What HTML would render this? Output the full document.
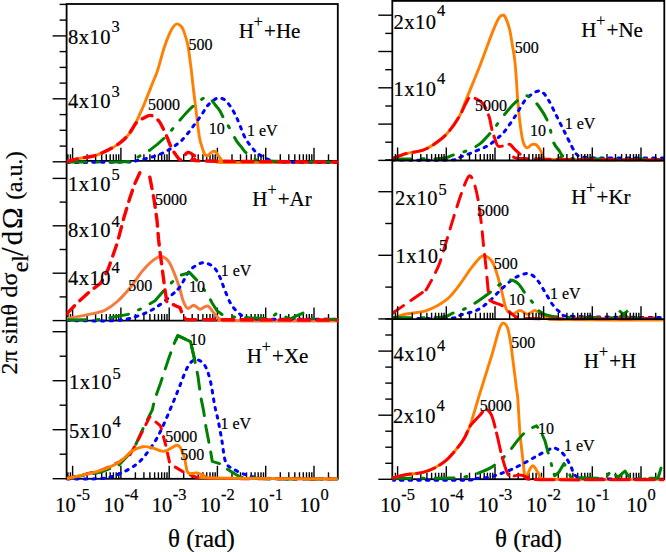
<!DOCTYPE html>
<html><head><meta charset="utf-8"><style>html,body{margin:0;padding:0;background:#fff;overflow:hidden}svg{display:block}</style></head><body>
<svg width="666" height="552" viewBox="0 0 666 552">
<rect width="666" height="552" fill="#fff"/>
<defs>
<clipPath id="cl0"><rect x="66.6" y="4.0" width="271.20000000000005" height="160.3"/></clipPath>
<clipPath id="cl1"><rect x="66.6" y="160.8" width="271.20000000000005" height="163.3"/></clipPath>
<clipPath id="cl2"><rect x="66.6" y="320.6" width="271.20000000000005" height="161.7"/></clipPath>
<clipPath id="cr0"><rect x="392.3" y="0.9" width="271.99999999999994" height="163.1"/></clipPath>
<clipPath id="cr1"><rect x="392.3" y="160.5" width="271.99999999999994" height="162.2"/></clipPath>
<clipPath id="cr2"><rect x="392.3" y="319.2" width="271.99999999999994" height="163.5"/></clipPath>
<clipPath id="cl1r"><rect x="66.6" y="166" width="271.20000000000005" height="157"/></clipPath>
</defs>
<path d="M392.0,158.5 C394.4,157.7 401.3,154.9 406.5,153.5 C411.7,152.1 418.1,152.0 423.0,150.2 C427.9,148.4 432.1,145.7 436.2,142.8 C440.3,139.9 443.9,137.2 447.8,132.8 C451.7,128.4 456.4,121.8 459.4,116.3 C462.4,110.8 462.6,108.4 466.0,100.0 C469.4,91.6 475.6,76.8 479.9,65.8 C484.2,54.8 489.0,41.1 491.8,33.9 C494.6,26.7 495.2,25.4 496.5,22.5 C497.8,19.6 498.8,18.0 499.8,16.8 C500.8,15.6 501.6,15.2 502.5,15.2 C503.4,15.1 503.8,14.2 505.0,16.5 C506.2,18.8 508.2,24.1 509.5,29.0 C510.8,33.9 511.6,40.9 512.5,46.0 C513.4,51.1 514.1,54.1 514.7,59.8 C515.4,65.5 515.9,73.3 516.4,80.0 C516.9,86.7 517.1,92.5 517.7,99.7 C518.3,106.9 519.1,116.1 520.0,123.1 C520.9,130.1 521.9,137.5 523.1,141.6 C524.3,145.7 525.6,147.3 527.0,147.8 C528.4,148.3 530.1,145.2 531.6,144.7 C533.1,144.2 534.7,143.7 536.2,144.7 C537.7,145.7 539.6,148.8 540.8,150.9 C542.0,153.0 542.0,155.6 543.2,157.0 C544.4,158.4 527.9,159.0 548.0,159.5 C568.1,160.0 644.7,159.9 664.0,160.0" fill="none" stroke="#FF8000" stroke-width="2.9" stroke-linejoin="round" clip-path="url(#cr0)"/>
<path d="M392.0,160.0 C401.7,160.0 438.5,160.5 450.0,160.0 C461.5,159.5 456.7,158.3 461.0,156.8 C465.3,155.3 471.2,153.0 475.9,151.0 C480.6,149.0 485.0,147.5 489.0,145.0 C493.0,142.5 497.5,138.3 500.0,136.2 C502.5,134.1 501.4,135.6 503.9,132.4 C506.3,129.2 511.1,122.4 514.7,117.0 C518.3,111.6 521.8,104.2 525.4,100.0 C529.0,95.8 533.4,92.9 536.2,91.6 C539.0,90.3 540.4,90.9 542.4,92.3 C544.4,93.7 546.2,96.1 548.5,100.0 C550.8,103.9 553.7,110.3 556.3,115.4 C558.9,120.5 561.4,125.7 564.0,130.8 C566.6,136.0 569.7,142.4 571.7,146.3 C573.8,150.2 574.5,152.2 576.3,154.0 C578.1,155.8 578.4,156.3 582.4,157.0 C586.4,157.7 586.4,157.8 600.0,158.0 C613.6,158.2 653.3,158.0 664.0,158.0" fill="none" stroke="#0000FF" stroke-width="3.0" stroke-linejoin="round" stroke-dasharray="2.6 6" stroke-linecap="round" clip-path="url(#cr0)"/>
<path d="M392.0,159.0 C400.0,158.9 429.9,159.1 440.0,158.4 C450.1,157.8 448.5,156.3 452.8,155.1 C457.1,153.9 461.6,152.8 466.0,151.0 C470.4,149.2 475.4,147.2 479.2,144.4 C483.0,141.7 486.4,137.3 489.0,134.5 C491.6,131.7 492.1,131.0 494.6,127.8 C497.1,124.6 501.1,119.0 503.9,115.4 C506.7,111.8 509.0,108.9 511.6,106.2 C514.2,103.5 516.5,101.0 519.3,99.3 C522.1,97.6 525.2,94.9 528.5,96.2 C531.8,97.5 536.0,102.5 539.3,107.0 C542.6,111.5 546.2,117.3 548.5,123.1 C550.8,128.9 551.4,137.0 553.2,141.6 C555.0,146.2 557.8,148.6 559.3,150.9 C560.8,153.2 560.6,154.2 562.4,155.5 C564.2,156.8 553.1,157.8 570.0,158.5 C586.9,159.2 648.3,159.3 664.0,159.5" fill="none" stroke="#008000" stroke-width="3.0" stroke-linejoin="round" stroke-dasharray="19 11 2 11" stroke-linecap="round" clip-path="url(#cr0)"/>
<path d="M392.0,158.5 C394.4,157.7 401.3,154.9 406.5,153.5 C411.7,152.1 418.1,152.0 423.0,150.2 C427.9,148.4 432.1,145.7 436.2,142.8 C440.3,139.9 443.9,137.2 447.8,132.8 C451.7,128.4 456.4,121.3 459.4,116.3 C462.4,111.4 464.1,106.3 466.0,103.1 C467.9,99.9 468.2,97.3 471.0,97.3 C473.8,97.3 479.5,99.9 482.5,103.1 C485.5,106.3 487.4,111.8 489.0,116.3 C490.6,120.8 491.0,126.2 492.0,130.0 C493.0,133.8 494.0,136.3 495.0,139.0 C496.0,141.7 496.3,144.9 498.0,146.0 C499.7,147.1 503.0,145.8 505.0,145.5 C507.0,145.2 508.4,143.9 510.0,144.5 C511.6,145.1 513.0,147.7 514.7,149.3 C516.4,150.9 518.2,152.4 520.0,154.0 C521.8,155.6 501.4,157.6 525.4,158.6 C549.4,159.6 640.9,159.8 664.0,160.0" fill="none" stroke="#FF0000" stroke-width="3.0" stroke-linejoin="round" stroke-dasharray="15 7" stroke-linecap="round" clip-path="url(#cr0)"/>
<path d="M392.0,318.2 C394.4,317.5 400.8,315.2 406.5,314.0 C412.2,312.7 419.7,313.0 426.3,310.7 C432.9,308.3 440.7,304.2 446.2,299.9 C451.7,295.6 455.3,290.2 459.4,285.0 C463.5,279.7 467.4,273.1 471.0,268.4 C474.6,263.7 478.5,258.9 480.8,256.9 C483.1,254.8 483.5,255.6 485.0,256.0 C486.5,256.3 488.5,257.3 490.0,258.9 C491.5,260.4 492.7,262.3 494.0,265.4 C495.3,268.5 496.7,272.9 498.0,277.4 C499.3,282.0 500.6,287.1 502.0,292.5 C503.4,297.9 504.8,306.0 506.5,309.6 C508.2,313.2 510.2,314.0 512.5,314.2 C514.8,314.3 517.5,310.4 520.0,310.4 C522.5,310.4 525.0,314.2 527.5,314.2 C530.0,314.2 532.8,310.4 535.0,310.4 C537.2,310.4 539.0,312.9 541.0,314.2 C543.0,315.4 543.8,317.0 547.0,317.9 C550.2,318.8 540.5,319.2 560.0,319.6 C579.5,320.0 646.7,320.0 664.0,320.1" fill="none" stroke="#FF8000" stroke-width="2.9" stroke-linejoin="round" clip-path="url(#cr1)"/>
<path d="M392.0,318.6 C401.7,318.5 438.5,318.8 450.0,318.2 C461.5,317.6 456.4,316.3 461.0,314.9 C465.6,313.5 472.8,312.1 477.5,309.9 C482.2,307.6 485.2,304.8 489.0,301.5 C492.8,298.2 496.6,293.7 500.5,290.0 C504.4,286.3 508.8,282.1 512.5,279.5 C516.2,276.8 520.0,275.1 523.0,274.2 C526.0,273.4 528.0,273.1 530.5,274.2 C533.0,275.4 535.5,277.8 538.0,281.0 C540.5,284.1 543.1,289.1 545.6,293.1 C548.1,297.1 550.3,301.8 553.0,305.1 C555.7,308.5 558.5,311.5 562.0,313.4 C565.5,315.3 557.0,315.7 574.0,316.4 C591.0,317.1 649.0,317.4 664.0,317.6" fill="none" stroke="#0000FF" stroke-width="3.0" stroke-linejoin="round" stroke-dasharray="2.6 6" stroke-linecap="round" clip-path="url(#cr1)"/>
<path d="M392.0,317.6 C400.0,317.6 429.9,318.1 440.0,317.4 C450.1,316.7 448.5,314.7 452.8,313.2 C457.1,311.7 461.9,310.2 466.0,308.3 C470.1,306.3 473.7,304.0 477.5,301.5 C481.3,299.0 485.9,295.7 489.0,293.3 C492.1,290.9 493.1,289.0 496.0,287.0 C498.9,284.9 503.8,282.1 506.5,281.0 C509.2,279.8 510.5,279.8 512.5,280.3 C514.5,280.8 516.2,281.6 518.5,284.0 C520.8,286.3 523.5,291.2 526.0,294.5 C528.5,297.8 531.2,300.8 533.5,303.5 C535.8,306.3 536.2,309.0 539.5,311.2 C542.8,313.3 542.9,315.3 553.0,316.4 C563.1,317.5 581.5,317.3 600.0,317.6 C618.5,317.9 653.3,318.0 664.0,318.1" fill="none" stroke="#008000" stroke-width="3.0" stroke-linejoin="round" stroke-dasharray="19 11 2 11" stroke-linecap="round" clip-path="url(#cr1)"/>
<path d="M619.0,310.6 L628.0,317.6" fill="none" stroke="#008000" stroke-width="3.0" stroke-linejoin="round" clip-path="url(#cr1)"/>
<path d="M628.0,310.6 L619.0,317.6" fill="none" stroke="#008000" stroke-width="3.0" stroke-linejoin="round" clip-path="url(#cr1)"/>
<path d="M392.0,313.6 L426.0,290.0" fill="none" stroke="#FF0000" stroke-width="3.0" stroke-linejoin="round" stroke-dasharray="14 9" stroke-linecap="round" clip-path="url(#cr1)"/>
<path d="M426.0,290.0 C427.2,287.9 430.8,281.9 433.0,277.4 C435.2,273.0 437.3,269.3 439.5,263.4 C441.7,257.5 443.7,250.1 446.2,241.9 C448.7,233.8 451.9,222.7 454.5,214.5 C457.1,206.3 459.6,198.4 461.7,192.6 C463.8,186.8 465.4,182.3 466.8,179.6 C468.2,176.8 469.1,175.0 470.4,176.0 C471.7,176.9 473.5,181.2 474.8,185.4 C476.1,189.6 477.3,195.0 478.4,201.4 C479.5,207.7 480.4,215.9 481.3,223.2 C482.2,230.6 482.8,238.3 483.5,245.3 C484.2,252.3 484.9,256.6 485.8,265.1 C486.7,273.6 488.0,290.4 489.0,296.5 C490.0,302.6 490.2,300.2 492.0,301.5 C493.8,302.9 498.1,303.7 500.0,304.5 C501.9,305.4 501.9,305.3 503.5,306.6 C505.1,307.8 507.2,310.1 509.5,311.9 C511.8,313.6 513.6,316.1 517.0,317.2 C520.4,318.3 505.5,318.4 530.0,318.6 C554.5,318.8 641.7,318.6 664.0,318.6" fill="none" stroke="#FF0000" stroke-width="3.0" stroke-linejoin="round" stroke-dasharray="14 9" stroke-dashoffset="3" stroke-linecap="round" clip-path="url(#cr1)"/>
<g stroke="#000" stroke-width="1.4" fill="none">
<line x1="67.9" y1="160.8" x2="67.9" y2="154.3"/>
<line x1="70.4" y1="160.8" x2="70.4" y2="154.3"/>
<line x1="72.6" y1="160.8" x2="72.6" y2="147.8"/>
<line x1="87.1" y1="160.8" x2="87.1" y2="154.3"/>
<line x1="95.6" y1="160.8" x2="95.6" y2="154.3"/>
<line x1="101.7" y1="160.8" x2="101.7" y2="154.3"/>
<line x1="106.3" y1="160.8" x2="106.3" y2="154.3"/>
<line x1="110.2" y1="160.8" x2="110.2" y2="154.3"/>
<line x1="113.4" y1="160.8" x2="113.4" y2="154.3"/>
<line x1="116.2" y1="160.8" x2="116.2" y2="154.3"/>
<line x1="118.7" y1="160.8" x2="118.7" y2="154.3"/>
<line x1="120.9" y1="160.8" x2="120.9" y2="147.8"/>
<line x1="135.4" y1="160.8" x2="135.4" y2="154.3"/>
<line x1="143.9" y1="160.8" x2="143.9" y2="154.3"/>
<line x1="149.9" y1="160.8" x2="149.9" y2="154.3"/>
<line x1="154.6" y1="160.8" x2="154.6" y2="154.3"/>
<line x1="158.4" y1="160.8" x2="158.4" y2="154.3"/>
<line x1="161.7" y1="160.8" x2="161.7" y2="154.3"/>
<line x1="164.5" y1="160.8" x2="164.5" y2="154.3"/>
<line x1="167.0" y1="160.8" x2="167.0" y2="154.3"/>
<line x1="169.2" y1="160.8" x2="169.2" y2="147.8"/>
<line x1="183.7" y1="160.8" x2="183.7" y2="154.3"/>
<line x1="192.2" y1="160.8" x2="192.2" y2="154.3"/>
<line x1="198.2" y1="160.8" x2="198.2" y2="154.3"/>
<line x1="202.9" y1="160.8" x2="202.9" y2="154.3"/>
<line x1="206.7" y1="160.8" x2="206.7" y2="154.3"/>
<line x1="210.0" y1="160.8" x2="210.0" y2="154.3"/>
<line x1="212.8" y1="160.8" x2="212.8" y2="154.3"/>
<line x1="215.2" y1="160.8" x2="215.2" y2="154.3"/>
<line x1="217.4" y1="160.8" x2="217.4" y2="147.8"/>
<line x1="232.0" y1="160.8" x2="232.0" y2="154.3"/>
<line x1="240.5" y1="160.8" x2="240.5" y2="154.3"/>
<line x1="246.5" y1="160.8" x2="246.5" y2="154.3"/>
<line x1="251.2" y1="160.8" x2="251.2" y2="154.3"/>
<line x1="255.0" y1="160.8" x2="255.0" y2="154.3"/>
<line x1="258.2" y1="160.8" x2="258.2" y2="154.3"/>
<line x1="261.0" y1="160.8" x2="261.0" y2="154.3"/>
<line x1="263.5" y1="160.8" x2="263.5" y2="154.3"/>
<line x1="265.7" y1="160.8" x2="265.7" y2="147.8"/>
<line x1="280.3" y1="160.8" x2="280.3" y2="154.3"/>
<line x1="288.8" y1="160.8" x2="288.8" y2="154.3"/>
<line x1="294.8" y1="160.8" x2="294.8" y2="154.3"/>
<line x1="299.5" y1="160.8" x2="299.5" y2="154.3"/>
<line x1="303.3" y1="160.8" x2="303.3" y2="154.3"/>
<line x1="306.5" y1="160.8" x2="306.5" y2="154.3"/>
<line x1="309.3" y1="160.8" x2="309.3" y2="154.3"/>
<line x1="311.8" y1="160.8" x2="311.8" y2="154.3"/>
<line x1="314.0" y1="160.8" x2="314.0" y2="147.8"/>
<line x1="328.5" y1="160.8" x2="328.5" y2="154.3"/>
<line x1="67.9" y1="320.6" x2="67.9" y2="314.1"/>
<line x1="70.4" y1="320.6" x2="70.4" y2="314.1"/>
<line x1="72.6" y1="320.6" x2="72.6" y2="307.6"/>
<line x1="87.1" y1="320.6" x2="87.1" y2="314.1"/>
<line x1="95.6" y1="320.6" x2="95.6" y2="314.1"/>
<line x1="101.7" y1="320.6" x2="101.7" y2="314.1"/>
<line x1="106.3" y1="320.6" x2="106.3" y2="314.1"/>
<line x1="110.2" y1="320.6" x2="110.2" y2="314.1"/>
<line x1="113.4" y1="320.6" x2="113.4" y2="314.1"/>
<line x1="116.2" y1="320.6" x2="116.2" y2="314.1"/>
<line x1="118.7" y1="320.6" x2="118.7" y2="314.1"/>
<line x1="120.9" y1="320.6" x2="120.9" y2="307.6"/>
<line x1="135.4" y1="320.6" x2="135.4" y2="314.1"/>
<line x1="143.9" y1="320.6" x2="143.9" y2="314.1"/>
<line x1="149.9" y1="320.6" x2="149.9" y2="314.1"/>
<line x1="154.6" y1="320.6" x2="154.6" y2="314.1"/>
<line x1="158.4" y1="320.6" x2="158.4" y2="314.1"/>
<line x1="161.7" y1="320.6" x2="161.7" y2="314.1"/>
<line x1="164.5" y1="320.6" x2="164.5" y2="314.1"/>
<line x1="167.0" y1="320.6" x2="167.0" y2="314.1"/>
<line x1="169.2" y1="320.6" x2="169.2" y2="307.6"/>
<line x1="183.7" y1="320.6" x2="183.7" y2="314.1"/>
<line x1="192.2" y1="320.6" x2="192.2" y2="314.1"/>
<line x1="198.2" y1="320.6" x2="198.2" y2="314.1"/>
<line x1="202.9" y1="320.6" x2="202.9" y2="314.1"/>
<line x1="206.7" y1="320.6" x2="206.7" y2="314.1"/>
<line x1="210.0" y1="320.6" x2="210.0" y2="314.1"/>
<line x1="212.8" y1="320.6" x2="212.8" y2="314.1"/>
<line x1="215.2" y1="320.6" x2="215.2" y2="314.1"/>
<line x1="217.4" y1="320.6" x2="217.4" y2="307.6"/>
<line x1="232.0" y1="320.6" x2="232.0" y2="314.1"/>
<line x1="240.5" y1="320.6" x2="240.5" y2="314.1"/>
<line x1="246.5" y1="320.6" x2="246.5" y2="314.1"/>
<line x1="251.2" y1="320.6" x2="251.2" y2="314.1"/>
<line x1="255.0" y1="320.6" x2="255.0" y2="314.1"/>
<line x1="258.2" y1="320.6" x2="258.2" y2="314.1"/>
<line x1="261.0" y1="320.6" x2="261.0" y2="314.1"/>
<line x1="263.5" y1="320.6" x2="263.5" y2="314.1"/>
<line x1="265.7" y1="320.6" x2="265.7" y2="307.6"/>
<line x1="280.3" y1="320.6" x2="280.3" y2="314.1"/>
<line x1="288.8" y1="320.6" x2="288.8" y2="314.1"/>
<line x1="294.8" y1="320.6" x2="294.8" y2="314.1"/>
<line x1="299.5" y1="320.6" x2="299.5" y2="314.1"/>
<line x1="303.3" y1="320.6" x2="303.3" y2="314.1"/>
<line x1="306.5" y1="320.6" x2="306.5" y2="314.1"/>
<line x1="309.3" y1="320.6" x2="309.3" y2="314.1"/>
<line x1="311.8" y1="320.6" x2="311.8" y2="314.1"/>
<line x1="314.0" y1="320.6" x2="314.0" y2="307.6"/>
<line x1="328.5" y1="320.6" x2="328.5" y2="314.1"/>
<line x1="67.9" y1="478.8" x2="67.9" y2="472.3"/>
<line x1="70.4" y1="478.8" x2="70.4" y2="472.3"/>
<line x1="72.6" y1="478.8" x2="72.6" y2="465.8"/>
<line x1="87.1" y1="478.8" x2="87.1" y2="472.3"/>
<line x1="95.6" y1="478.8" x2="95.6" y2="472.3"/>
<line x1="101.7" y1="478.8" x2="101.7" y2="472.3"/>
<line x1="106.3" y1="478.8" x2="106.3" y2="472.3"/>
<line x1="110.2" y1="478.8" x2="110.2" y2="472.3"/>
<line x1="113.4" y1="478.8" x2="113.4" y2="472.3"/>
<line x1="116.2" y1="478.8" x2="116.2" y2="472.3"/>
<line x1="118.7" y1="478.8" x2="118.7" y2="472.3"/>
<line x1="120.9" y1="478.8" x2="120.9" y2="465.8"/>
<line x1="135.4" y1="478.8" x2="135.4" y2="472.3"/>
<line x1="143.9" y1="478.8" x2="143.9" y2="472.3"/>
<line x1="149.9" y1="478.8" x2="149.9" y2="472.3"/>
<line x1="154.6" y1="478.8" x2="154.6" y2="472.3"/>
<line x1="158.4" y1="478.8" x2="158.4" y2="472.3"/>
<line x1="161.7" y1="478.8" x2="161.7" y2="472.3"/>
<line x1="164.5" y1="478.8" x2="164.5" y2="472.3"/>
<line x1="167.0" y1="478.8" x2="167.0" y2="472.3"/>
<line x1="169.2" y1="478.8" x2="169.2" y2="465.8"/>
<line x1="183.7" y1="478.8" x2="183.7" y2="472.3"/>
<line x1="192.2" y1="478.8" x2="192.2" y2="472.3"/>
<line x1="198.2" y1="478.8" x2="198.2" y2="472.3"/>
<line x1="202.9" y1="478.8" x2="202.9" y2="472.3"/>
<line x1="206.7" y1="478.8" x2="206.7" y2="472.3"/>
<line x1="210.0" y1="478.8" x2="210.0" y2="472.3"/>
<line x1="212.8" y1="478.8" x2="212.8" y2="472.3"/>
<line x1="215.2" y1="478.8" x2="215.2" y2="472.3"/>
<line x1="217.4" y1="478.8" x2="217.4" y2="465.8"/>
<line x1="232.0" y1="478.8" x2="232.0" y2="472.3"/>
<line x1="240.5" y1="478.8" x2="240.5" y2="472.3"/>
<line x1="246.5" y1="478.8" x2="246.5" y2="472.3"/>
<line x1="251.2" y1="478.8" x2="251.2" y2="472.3"/>
<line x1="255.0" y1="478.8" x2="255.0" y2="472.3"/>
<line x1="258.2" y1="478.8" x2="258.2" y2="472.3"/>
<line x1="261.0" y1="478.8" x2="261.0" y2="472.3"/>
<line x1="263.5" y1="478.8" x2="263.5" y2="472.3"/>
<line x1="265.7" y1="478.8" x2="265.7" y2="465.8"/>
<line x1="280.3" y1="478.8" x2="280.3" y2="472.3"/>
<line x1="288.8" y1="478.8" x2="288.8" y2="472.3"/>
<line x1="294.8" y1="478.8" x2="294.8" y2="472.3"/>
<line x1="299.5" y1="478.8" x2="299.5" y2="472.3"/>
<line x1="303.3" y1="478.8" x2="303.3" y2="472.3"/>
<line x1="306.5" y1="478.8" x2="306.5" y2="472.3"/>
<line x1="309.3" y1="478.8" x2="309.3" y2="472.3"/>
<line x1="311.8" y1="478.8" x2="311.8" y2="472.3"/>
<line x1="314.0" y1="478.8" x2="314.0" y2="465.8"/>
<line x1="328.5" y1="478.8" x2="328.5" y2="472.3"/>
<line x1="395.4" y1="160.5" x2="395.4" y2="154.0"/>
<line x1="397.6" y1="160.5" x2="397.6" y2="147.5"/>
<line x1="412.3" y1="160.5" x2="412.3" y2="154.0"/>
<line x1="420.8" y1="160.5" x2="420.8" y2="154.0"/>
<line x1="426.9" y1="160.5" x2="426.9" y2="154.0"/>
<line x1="431.6" y1="160.5" x2="431.6" y2="154.0"/>
<line x1="435.5" y1="160.5" x2="435.5" y2="154.0"/>
<line x1="438.7" y1="160.5" x2="438.7" y2="154.0"/>
<line x1="441.6" y1="160.5" x2="441.6" y2="154.0"/>
<line x1="444.1" y1="160.5" x2="444.1" y2="154.0"/>
<line x1="446.3" y1="160.5" x2="446.3" y2="147.5"/>
<line x1="460.9" y1="160.5" x2="460.9" y2="154.0"/>
<line x1="469.5" y1="160.5" x2="469.5" y2="154.0"/>
<line x1="475.6" y1="160.5" x2="475.6" y2="154.0"/>
<line x1="480.3" y1="160.5" x2="480.3" y2="154.0"/>
<line x1="484.2" y1="160.5" x2="484.2" y2="154.0"/>
<line x1="487.4" y1="160.5" x2="487.4" y2="154.0"/>
<line x1="490.2" y1="160.5" x2="490.2" y2="154.0"/>
<line x1="492.7" y1="160.5" x2="492.7" y2="154.0"/>
<line x1="495.0" y1="160.5" x2="495.0" y2="147.5"/>
<line x1="509.6" y1="160.5" x2="509.6" y2="154.0"/>
<line x1="518.2" y1="160.5" x2="518.2" y2="154.0"/>
<line x1="524.3" y1="160.5" x2="524.3" y2="154.0"/>
<line x1="529.0" y1="160.5" x2="529.0" y2="154.0"/>
<line x1="532.8" y1="160.5" x2="532.8" y2="154.0"/>
<line x1="536.1" y1="160.5" x2="536.1" y2="154.0"/>
<line x1="538.9" y1="160.5" x2="538.9" y2="154.0"/>
<line x1="541.4" y1="160.5" x2="541.4" y2="154.0"/>
<line x1="543.6" y1="160.5" x2="543.6" y2="147.5"/>
<line x1="558.3" y1="160.5" x2="558.3" y2="154.0"/>
<line x1="566.9" y1="160.5" x2="566.9" y2="154.0"/>
<line x1="572.9" y1="160.5" x2="572.9" y2="154.0"/>
<line x1="577.7" y1="160.5" x2="577.7" y2="154.0"/>
<line x1="581.5" y1="160.5" x2="581.5" y2="154.0"/>
<line x1="584.8" y1="160.5" x2="584.8" y2="154.0"/>
<line x1="587.6" y1="160.5" x2="587.6" y2="154.0"/>
<line x1="590.1" y1="160.5" x2="590.1" y2="154.0"/>
<line x1="592.3" y1="160.5" x2="592.3" y2="147.5"/>
<line x1="607.0" y1="160.5" x2="607.0" y2="154.0"/>
<line x1="615.5" y1="160.5" x2="615.5" y2="154.0"/>
<line x1="621.6" y1="160.5" x2="621.6" y2="154.0"/>
<line x1="626.3" y1="160.5" x2="626.3" y2="154.0"/>
<line x1="630.2" y1="160.5" x2="630.2" y2="154.0"/>
<line x1="633.5" y1="160.5" x2="633.5" y2="154.0"/>
<line x1="636.3" y1="160.5" x2="636.3" y2="154.0"/>
<line x1="638.8" y1="160.5" x2="638.8" y2="154.0"/>
<line x1="641.0" y1="160.5" x2="641.0" y2="147.5"/>
<line x1="655.7" y1="160.5" x2="655.7" y2="154.0"/>
<line x1="395.4" y1="319.2" x2="395.4" y2="312.7"/>
<line x1="397.6" y1="319.2" x2="397.6" y2="306.2"/>
<line x1="412.3" y1="319.2" x2="412.3" y2="312.7"/>
<line x1="420.8" y1="319.2" x2="420.8" y2="312.7"/>
<line x1="426.9" y1="319.2" x2="426.9" y2="312.7"/>
<line x1="431.6" y1="319.2" x2="431.6" y2="312.7"/>
<line x1="435.5" y1="319.2" x2="435.5" y2="312.7"/>
<line x1="438.7" y1="319.2" x2="438.7" y2="312.7"/>
<line x1="441.6" y1="319.2" x2="441.6" y2="312.7"/>
<line x1="444.1" y1="319.2" x2="444.1" y2="312.7"/>
<line x1="446.3" y1="319.2" x2="446.3" y2="306.2"/>
<line x1="460.9" y1="319.2" x2="460.9" y2="312.7"/>
<line x1="469.5" y1="319.2" x2="469.5" y2="312.7"/>
<line x1="475.6" y1="319.2" x2="475.6" y2="312.7"/>
<line x1="480.3" y1="319.2" x2="480.3" y2="312.7"/>
<line x1="484.2" y1="319.2" x2="484.2" y2="312.7"/>
<line x1="487.4" y1="319.2" x2="487.4" y2="312.7"/>
<line x1="490.2" y1="319.2" x2="490.2" y2="312.7"/>
<line x1="492.7" y1="319.2" x2="492.7" y2="312.7"/>
<line x1="495.0" y1="319.2" x2="495.0" y2="306.2"/>
<line x1="509.6" y1="319.2" x2="509.6" y2="312.7"/>
<line x1="518.2" y1="319.2" x2="518.2" y2="312.7"/>
<line x1="524.3" y1="319.2" x2="524.3" y2="312.7"/>
<line x1="529.0" y1="319.2" x2="529.0" y2="312.7"/>
<line x1="532.8" y1="319.2" x2="532.8" y2="312.7"/>
<line x1="536.1" y1="319.2" x2="536.1" y2="312.7"/>
<line x1="538.9" y1="319.2" x2="538.9" y2="312.7"/>
<line x1="541.4" y1="319.2" x2="541.4" y2="312.7"/>
<line x1="543.6" y1="319.2" x2="543.6" y2="306.2"/>
<line x1="558.3" y1="319.2" x2="558.3" y2="312.7"/>
<line x1="566.9" y1="319.2" x2="566.9" y2="312.7"/>
<line x1="572.9" y1="319.2" x2="572.9" y2="312.7"/>
<line x1="577.7" y1="319.2" x2="577.7" y2="312.7"/>
<line x1="581.5" y1="319.2" x2="581.5" y2="312.7"/>
<line x1="584.8" y1="319.2" x2="584.8" y2="312.7"/>
<line x1="587.6" y1="319.2" x2="587.6" y2="312.7"/>
<line x1="590.1" y1="319.2" x2="590.1" y2="312.7"/>
<line x1="592.3" y1="319.2" x2="592.3" y2="306.2"/>
<line x1="607.0" y1="319.2" x2="607.0" y2="312.7"/>
<line x1="615.5" y1="319.2" x2="615.5" y2="312.7"/>
<line x1="621.6" y1="319.2" x2="621.6" y2="312.7"/>
<line x1="626.3" y1="319.2" x2="626.3" y2="312.7"/>
<line x1="630.2" y1="319.2" x2="630.2" y2="312.7"/>
<line x1="633.5" y1="319.2" x2="633.5" y2="312.7"/>
<line x1="636.3" y1="319.2" x2="636.3" y2="312.7"/>
<line x1="638.8" y1="319.2" x2="638.8" y2="312.7"/>
<line x1="641.0" y1="319.2" x2="641.0" y2="306.2"/>
<line x1="655.7" y1="319.2" x2="655.7" y2="312.7"/>
<line x1="395.4" y1="479.2" x2="395.4" y2="472.7"/>
<line x1="397.6" y1="479.2" x2="397.6" y2="466.2"/>
<line x1="412.3" y1="479.2" x2="412.3" y2="472.7"/>
<line x1="420.8" y1="479.2" x2="420.8" y2="472.7"/>
<line x1="426.9" y1="479.2" x2="426.9" y2="472.7"/>
<line x1="431.6" y1="479.2" x2="431.6" y2="472.7"/>
<line x1="435.5" y1="479.2" x2="435.5" y2="472.7"/>
<line x1="438.7" y1="479.2" x2="438.7" y2="472.7"/>
<line x1="441.6" y1="479.2" x2="441.6" y2="472.7"/>
<line x1="444.1" y1="479.2" x2="444.1" y2="472.7"/>
<line x1="446.3" y1="479.2" x2="446.3" y2="466.2"/>
<line x1="460.9" y1="479.2" x2="460.9" y2="472.7"/>
<line x1="469.5" y1="479.2" x2="469.5" y2="472.7"/>
<line x1="475.6" y1="479.2" x2="475.6" y2="472.7"/>
<line x1="480.3" y1="479.2" x2="480.3" y2="472.7"/>
<line x1="484.2" y1="479.2" x2="484.2" y2="472.7"/>
<line x1="487.4" y1="479.2" x2="487.4" y2="472.7"/>
<line x1="490.2" y1="479.2" x2="490.2" y2="472.7"/>
<line x1="492.7" y1="479.2" x2="492.7" y2="472.7"/>
<line x1="495.0" y1="479.2" x2="495.0" y2="466.2"/>
<line x1="509.6" y1="479.2" x2="509.6" y2="472.7"/>
<line x1="518.2" y1="479.2" x2="518.2" y2="472.7"/>
<line x1="524.3" y1="479.2" x2="524.3" y2="472.7"/>
<line x1="529.0" y1="479.2" x2="529.0" y2="472.7"/>
<line x1="532.8" y1="479.2" x2="532.8" y2="472.7"/>
<line x1="536.1" y1="479.2" x2="536.1" y2="472.7"/>
<line x1="538.9" y1="479.2" x2="538.9" y2="472.7"/>
<line x1="541.4" y1="479.2" x2="541.4" y2="472.7"/>
<line x1="543.6" y1="479.2" x2="543.6" y2="466.2"/>
<line x1="558.3" y1="479.2" x2="558.3" y2="472.7"/>
<line x1="566.9" y1="479.2" x2="566.9" y2="472.7"/>
<line x1="572.9" y1="479.2" x2="572.9" y2="472.7"/>
<line x1="577.7" y1="479.2" x2="577.7" y2="472.7"/>
<line x1="581.5" y1="479.2" x2="581.5" y2="472.7"/>
<line x1="584.8" y1="479.2" x2="584.8" y2="472.7"/>
<line x1="587.6" y1="479.2" x2="587.6" y2="472.7"/>
<line x1="590.1" y1="479.2" x2="590.1" y2="472.7"/>
<line x1="592.3" y1="479.2" x2="592.3" y2="466.2"/>
<line x1="607.0" y1="479.2" x2="607.0" y2="472.7"/>
<line x1="615.5" y1="479.2" x2="615.5" y2="472.7"/>
<line x1="621.6" y1="479.2" x2="621.6" y2="472.7"/>
<line x1="626.3" y1="479.2" x2="626.3" y2="472.7"/>
<line x1="630.2" y1="479.2" x2="630.2" y2="472.7"/>
<line x1="633.5" y1="479.2" x2="633.5" y2="472.7"/>
<line x1="636.3" y1="479.2" x2="636.3" y2="472.7"/>
<line x1="638.8" y1="479.2" x2="638.8" y2="472.7"/>
<line x1="641.0" y1="479.2" x2="641.0" y2="466.2"/>
<line x1="655.7" y1="479.2" x2="655.7" y2="472.7"/>
</g>
<g stroke="#000" stroke-width="1.8" fill="none">
<rect x="66.6" y="4.0" width="271.20000000000005" height="474.8"/>
<line x1="66.6" y1="160.8" x2="337.8" y2="160.8"/>
<line x1="66.6" y1="320.6" x2="337.8" y2="320.6"/>
<rect x="392.3" y="0.9" width="271.99999999999994" height="478.3"/>
<line x1="392.3" y1="160.5" x2="664.3" y2="160.5"/>
<line x1="392.3" y1="319.2" x2="664.3" y2="319.2"/>
</g>
<path d="M67.0,161.5 C69.1,161.0 74.6,159.5 79.4,158.5 C84.2,157.5 90.8,156.8 95.6,155.4 C100.4,153.9 104.3,151.9 108.2,149.9 C112.1,148.0 115.7,146.0 119.0,143.6 C122.3,141.2 125.8,137.8 128.0,135.3 C130.2,132.9 131.1,131.1 132.5,128.8 C133.9,126.5 135.2,123.9 136.5,121.3 C137.8,118.8 138.8,116.3 140.0,113.7 C141.2,111.1 142.3,108.7 143.5,105.9 C144.7,103.2 145.8,100.1 147.0,97.1 C148.2,94.1 149.4,91.1 150.6,88.1 C151.8,85.2 152.8,82.4 154.0,79.5 C155.2,76.5 155.9,75.6 157.6,70.4 C159.3,65.2 162.1,54.2 164.0,48.3 C165.9,42.3 167.4,38.4 169.0,34.8 C170.6,31.2 172.0,28.7 173.3,26.8 C174.6,25.0 175.7,24.0 177.0,23.9 C178.3,23.8 179.9,25.0 181.0,26.1 C182.1,27.2 182.4,27.3 183.5,30.5 C184.6,33.6 186.6,39.2 187.8,45.1 C189.0,50.9 189.7,57.8 190.7,65.4 C191.7,73.0 192.8,84.2 193.6,90.5 C194.3,96.9 194.6,98.4 195.2,103.6 C195.8,108.9 196.7,116.2 197.4,121.9 C198.1,127.6 198.8,133.8 199.5,137.8 C200.2,141.9 200.9,143.6 201.8,146.4 C202.7,149.2 203.9,153.4 205.0,154.9 C206.1,156.3 206.9,155.9 208.1,155.4 C209.3,154.8 211.1,152.3 212.3,151.7 C213.5,151.1 214.4,151.0 215.5,151.7 C216.6,152.4 217.5,154.6 218.6,156.0 C219.7,157.4 220.6,159.1 221.8,160.2 C223.0,161.3 206.6,162.1 226.0,162.5 C245.4,162.9 319.3,162.5 338.0,162.5" fill="none" stroke="#FF8000" stroke-width="2.9" stroke-linejoin="round" clip-path="url(#cl0)"/>
<path d="M67.0,162.5 C77.2,162.4 116.3,162.3 128.0,162.0 C139.7,161.7 133.1,161.3 137.0,160.5 C140.9,159.7 146.7,158.7 151.5,157.2 C156.3,155.7 161.7,153.7 166.0,151.4 C170.3,149.2 174.4,146.2 177.6,143.8 C180.8,141.4 181.9,140.4 185.0,136.8 C188.1,133.3 193.2,126.3 196.0,122.5 C198.8,118.8 200.1,117.0 202.0,114.2 C203.9,111.4 205.3,108.3 207.3,105.9 C209.3,103.6 212.1,101.2 214.0,99.9 C215.9,98.6 217.1,97.9 219.0,98.0 C220.9,98.0 223.4,98.8 225.3,100.2 C227.2,101.7 228.9,104.3 230.5,106.6 C232.1,109.0 233.6,111.5 235.0,114.2 C236.4,116.8 237.1,118.6 238.8,122.5 C240.5,126.5 242.9,133.8 245.2,138.0 C247.5,142.3 250.3,145.5 252.5,148.2 C254.7,150.9 255.4,152.1 258.3,154.0 C261.2,156.0 265.9,158.7 269.8,160.0 C273.8,161.3 270.6,161.6 282.0,162.0 C293.4,162.4 328.7,162.4 338.0,162.5" fill="none" stroke="#0000FF" stroke-width="3.0" stroke-linejoin="round" stroke-dasharray="2.6 6" stroke-linecap="round" clip-path="url(#cl0)"/>
<path d="M67.0,162.0 C77.2,161.9 116.0,162.4 128.0,161.5 C140.0,160.6 135.0,158.6 138.9,156.5 C142.8,154.4 147.0,152.3 151.5,148.9 C156.0,145.6 161.2,141.2 166.0,136.3 C170.8,131.5 176.3,124.3 180.3,119.7 C184.3,115.2 186.7,112.2 190.0,109.0 C193.3,105.8 197.0,102.6 200.0,100.6 C203.0,98.6 205.3,96.1 208.0,97.1 C210.7,98.0 214.3,103.9 216.3,106.2 C218.3,108.5 218.6,108.5 220.0,110.9 C221.4,113.2 223.0,117.5 224.5,120.2 C226.0,123.0 227.0,123.7 229.0,127.2 C231.0,130.6 234.3,137.4 236.5,140.9 C238.7,144.4 240.7,146.2 242.3,148.2 C243.9,150.2 244.1,151.0 246.0,152.6 C247.9,154.3 250.8,156.6 254.0,158.0 C257.2,159.4 251.0,160.3 265.0,161.0 C279.0,161.7 325.8,161.8 338.0,162.0" fill="none" stroke="#008000" stroke-width="3.0" stroke-linejoin="round" stroke-dasharray="19 11 2 11" stroke-linecap="round" clip-path="url(#cl0)"/>
<path d="M67.0,161.5 C69.1,161.0 74.6,159.5 79.4,158.5 C84.2,157.5 90.8,156.8 95.6,155.4 C100.4,153.9 104.3,151.9 108.2,149.9 C112.1,148.0 115.7,146.0 119.0,143.6 C122.3,141.2 125.1,138.8 128.0,135.3 C130.9,131.8 133.9,125.4 136.5,122.5 C139.1,119.7 141.2,119.4 143.5,118.2 C145.8,117.0 148.1,115.0 150.6,115.4 C153.1,115.8 156.1,117.7 158.7,120.8 C161.2,124.0 163.8,130.0 165.9,134.4 C168.0,138.9 169.6,144.1 171.3,147.5 C173.0,150.9 174.4,152.9 176.0,155.0 C177.6,157.0 179.0,160.4 181.0,160.0 C183.0,159.6 185.2,152.8 188.0,152.4 C190.8,152.1 195.1,156.6 197.6,158.1 C200.1,159.5 179.6,160.3 203.0,161.0 C226.4,161.6 315.5,161.8 338.0,162.0" fill="none" stroke="#FF0000" stroke-width="3.4" stroke-linejoin="round" stroke-dasharray="10.6 7.4" stroke-linecap="round" clip-path="url(#cl0)"/>
<path d="M67.0,318.6 C72.1,317.6 90.9,314.1 97.4,312.6 C103.9,311.1 102.7,311.4 106.0,309.6 C109.3,307.7 113.3,305.1 117.3,301.5 C121.3,297.9 125.7,293.1 129.9,288.0 C134.1,282.9 138.6,275.6 142.5,270.9 C146.4,266.3 150.2,262.5 153.3,260.1 C156.5,257.7 158.7,256.0 161.4,256.5 C164.1,256.9 166.7,258.1 169.5,262.8 C172.3,267.5 176.2,278.2 178.5,284.5 C180.8,290.8 181.5,296.5 183.0,300.5 C184.5,304.5 185.9,307.6 187.7,308.4 C189.5,309.1 191.8,305.1 193.9,305.2 C196.0,305.4 197.7,309.0 200.0,309.2 C202.3,309.3 205.4,305.4 207.7,306.0 C210.0,306.7 211.8,310.8 213.9,313.0 C216.0,315.2 217.3,317.9 220.0,319.2 C222.7,320.5 210.3,320.5 230.0,320.8 C249.7,321.1 320.0,321.1 338.0,321.1" fill="none" stroke="#F57A3C" stroke-width="3.0" stroke-linejoin="round" clip-path="url(#cl1)"/>
<path d="M67.0,320.6 C75.0,320.6 103.3,321.3 115.0,320.6 C126.7,319.9 130.3,318.3 137.0,316.2 C143.7,314.1 149.3,311.5 155.0,308.1 C160.7,304.6 167.1,299.0 171.3,295.4 C175.5,291.8 177.0,290.7 180.0,286.7 C183.0,282.6 186.4,274.8 189.2,271.2 C192.0,267.6 194.4,266.5 197.0,265.1 C199.6,263.7 201.8,262.3 204.6,262.7 C207.4,263.1 211.3,264.9 213.9,267.4 C216.5,269.9 218.2,273.7 220.0,277.4 C221.8,281.2 222.9,285.4 224.7,289.8 C226.5,294.2 228.5,299.9 230.8,303.7 C233.1,307.6 235.9,310.7 238.5,313.0 C241.1,315.3 242.7,316.6 246.3,317.6 C249.9,318.6 244.7,318.9 260.0,319.2 C275.3,319.5 325.0,319.2 338.0,319.2" fill="none" stroke="#0000FF" stroke-width="3.0" stroke-linejoin="round" stroke-dasharray="2.6 6" stroke-linecap="round" clip-path="url(#cl1)"/>
<path d="M67.0,320.1 L100.0,319.6 L128.0,314.4 L142.5,308.1 L155.0,300.8 L166.0,288.2 L178.5,275.9 L189.6,272.6 L197.0,280.4 L207.7,294.5 L212.4,303.5 L217.0,310.6 L223.0,315.3 L238.5,317.6 L270.0,318.6 L277.0,313.1 L290.0,319.1 L297.0,315.6 L303.0,313.1 L309.0,318.6 L338.0,319.6" fill="none" stroke="#008000" stroke-width="3.0" stroke-linejoin="round" stroke-dasharray="19 11 2 11" stroke-linecap="round" clip-path="url(#cl1)"/>
<path d="M66.5,314.1 L75.8,304.4 L88.4,292.7 L101.0,282.8 L108.2,269.1 L117.3,242.9 L124.0,217.2 L130.0,197.6 L134.6,184.1 L142.4,167.2" fill="none" stroke="#FF0000" stroke-width="3.4" stroke-linejoin="round" stroke-dasharray="11.6 7.4" stroke-linecap="round" clip-path="url(#cl1)"/>
<path d="M149.8,177.1 L154.0,199.1 L157.0,220.2 L158.6,239.9 L160.5,255.6 L165.0,290.0 L166.8,301.7 L176.7,306.2 L180.0,307.6 L182.5,314.6 L186.0,319.6 L338.0,320.1" fill="none" stroke="#FF0000" stroke-width="3.4" stroke-linejoin="round" stroke-dasharray="11.6 7.4" stroke-linecap="round" clip-path="url(#cl1)"/>
<path d="M67.0,479.0 C72.7,478.9 92.3,479.3 101.0,478.5 C109.7,477.7 113.0,476.4 119.0,474.0 C125.0,471.5 131.9,468.0 137.0,463.9 C142.1,459.8 145.8,454.8 149.7,449.4 C153.6,444.0 156.6,439.1 160.5,431.3 C164.4,423.5 169.8,410.2 173.1,402.5 C176.3,394.9 177.6,391.3 180.0,385.4 C182.4,379.5 185.0,371.6 187.5,367.3 C190.0,363.0 192.2,360.3 195.0,359.7 C197.8,359.2 201.5,361.0 204.0,364.3 C206.5,367.5 208.2,372.6 210.0,379.4 C211.8,386.2 213.3,398.5 214.6,405.1 C215.9,411.8 216.7,413.5 217.9,419.3 C219.1,425.1 220.5,432.8 221.8,440.0 C223.1,447.1 223.7,457.2 225.7,462.1 C227.7,467.0 230.2,467.1 233.6,469.2 C237.0,471.4 242.0,473.4 246.2,474.9 C250.4,476.3 254.2,477.3 258.9,478.0 C263.6,478.6 261.4,478.6 274.6,478.8 C287.8,479.0 327.4,479.0 338.0,479.0" fill="none" stroke="#0000FF" stroke-width="3.0" stroke-linejoin="round" stroke-dasharray="2.6 6" stroke-linecap="round" clip-path="url(#cl2)"/>
<path d="M67.0,478.5 L101.0,472.0 L119.0,464.9 L133.5,449.4 L144.3,425.9 L152.4,409.6 L154.5,399.8 L160.5,383.2 L168.0,360.6 L174.0,343.9 L177.8,335.6 L190.5,341.6 L194.3,358.2 L198.0,376.4 L200.5,395.5 L203.7,411.4 L206.0,427.2 L210.0,447.8 L212.3,461.4 L222.6,464.5 L227.3,469.2 L240.0,477.0 L270.0,479.0 L338.0,479.0" fill="none" stroke="#008000" stroke-width="3.0" stroke-linejoin="round" stroke-dasharray="17 10" stroke-linecap="round" clip-path="url(#cl2)"/>
<path d="M175.5,340.6 L177.8,335.6 L190.5,341.6 L194.3,358.2 L195.0,361.3" fill="none" stroke="#008000" stroke-width="3.0" stroke-linejoin="round" clip-path="url(#cl2)"/>
<path d="M67.0,478.5 L83.0,474.9 L101.0,470.3 L119.0,462.2 L129.9,454.8 L137.0,442.2 L144.3,427.7 L149.7,416.8 L160.5,425.9 L165.9,445.8 L169.5,462.2 L173.1,465.8 L185.0,473.0 L200.0,478.5 L338.0,479.0" fill="none" stroke="#FF0000" stroke-width="3.0" stroke-linejoin="round" stroke-dasharray="9 8" stroke-linecap="round" clip-path="url(#cl2)"/>
<path d="M67.0,478.5 C69.7,477.9 77.3,476.2 83.0,474.9 C88.7,473.5 95.0,472.5 101.0,470.3 C107.0,468.2 113.9,465.4 119.0,462.2 C124.1,459.0 127.8,453.9 131.7,451.3 C135.6,448.8 139.2,447.4 142.5,446.8 C145.8,446.2 147.9,446.8 151.5,447.6 C155.1,448.4 159.9,451.7 164.1,451.3 C168.3,450.9 173.9,445.7 176.7,445.3 C179.5,444.9 179.7,446.7 181.0,448.8 C182.3,450.9 183.4,454.0 184.5,457.9 C185.6,461.7 186.2,469.4 187.5,472.0 C188.8,474.6 190.3,473.3 192.0,473.5 C193.7,473.6 195.2,472.5 197.4,473.0 C199.6,473.4 202.7,475.1 205.0,476.0 C207.3,476.8 189.3,477.5 211.5,478.0 C233.7,478.5 316.9,478.8 338.0,479.0" fill="none" stroke="#FF8000" stroke-width="2.9" stroke-linejoin="round" clip-path="url(#cl2)"/>
<path d="M392.0,478.2 C394.4,477.6 401.3,475.5 406.5,474.6 C411.7,473.6 418.1,473.7 423.0,472.4 C427.9,471.2 432.1,469.4 436.2,467.1 C440.3,464.8 443.9,462.5 447.8,458.8 C451.7,455.2 456.5,449.1 459.4,445.4 C462.3,441.8 463.2,440.2 465.0,436.9 C466.8,433.6 467.5,433.1 470.0,425.8 C472.5,418.5 476.3,405.0 479.9,393.3 C483.5,381.5 489.1,364.0 491.8,355.2 C494.5,346.3 494.7,344.8 496.0,340.2 C497.3,335.6 498.6,330.4 499.8,327.6 C501.0,324.7 502.0,323.0 503.3,323.1 C504.6,323.2 506.5,324.9 507.7,328.2 C508.9,331.4 509.6,336.7 510.6,342.8 C511.6,348.9 512.5,357.2 513.5,364.7 C514.5,372.3 515.7,382.5 516.4,388.1 C517.1,393.8 517.2,391.1 517.8,398.6 C518.4,406.1 519.1,423.0 520.0,433.4 C520.9,443.7 522.1,453.3 523.0,460.6 C523.9,467.9 524.0,475.9 525.3,477.2 C526.5,478.4 529.1,470.0 530.5,468.1 C531.9,466.2 532.2,465.1 533.5,465.9 C534.8,466.7 536.8,470.7 538.0,472.8 C539.2,474.8 539.0,476.9 541.0,478.0 C543.0,479.1 529.5,479.0 550.0,479.2 C570.5,479.4 645.0,479.2 664.0,479.2" fill="none" stroke="#FF8000" stroke-width="2.9" stroke-linejoin="round" clip-path="url(#cr2)"/>
<path d="M392.0,480.2 C404.2,480.2 451.6,480.4 465.0,480.2 C478.4,480.0 468.6,479.3 472.6,478.8 C476.6,478.3 484.6,478.0 489.0,477.2 C493.4,476.4 495.3,475.4 499.0,474.2 C502.7,472.9 506.5,471.7 511.0,469.7 C515.5,467.7 521.2,464.6 526.0,462.1 C530.8,459.5 535.2,456.8 539.5,454.5 C543.8,452.2 548.6,449.3 551.6,448.5 C554.6,447.6 555.4,448.0 557.6,449.3 C559.8,450.5 562.8,453.1 565.0,456.0 C567.2,458.9 569.2,463.4 571.0,466.7 C572.8,470.0 572.4,473.8 575.6,475.8 C578.8,477.8 575.3,478.1 590.0,478.7 C604.7,479.3 651.7,479.1 664.0,479.2" fill="none" stroke="#0000FF" stroke-width="3.0" stroke-linejoin="round" stroke-dasharray="2.6 6" stroke-linecap="round" clip-path="url(#cr2)"/>
<path d="M392.0,478.2 C401.7,478.2 437.4,478.3 450.0,478.0 C462.6,477.7 462.5,477.3 467.6,476.3 C472.7,475.3 477.1,473.5 480.8,472.1 C484.5,470.8 487.0,469.9 490.0,468.1 C493.0,466.4 495.8,464.4 499.0,461.6 C502.2,458.7 506.3,454.6 509.5,451.0 C512.7,447.4 515.6,442.8 518.0,439.9 C520.4,437.0 522.0,435.2 524.0,433.4 C526.0,431.5 527.9,430.1 530.0,428.8 C532.1,427.6 535.4,426.3 536.5,425.8" fill="none" stroke="#008000" stroke-width="3.0" stroke-linejoin="round" stroke-dasharray="19 11 2 11" stroke-linecap="round" clip-path="url(#cr2)"/>
<path d="M536.5,425.8 L541.0,431.8 L545.0,440.9 L547.8,451.5 L551.6,465.1 L554.6,475.8 L559.0,472.1 L564.0,463.6 L567.0,468.1 L571.0,477.7 L600.0,478.2 L606.0,477.2 L611.0,471.1 L618.0,477.2 L625.0,471.1 L630.0,478.2 L658.0,478.2 L661.0,468.1 L664.0,477.2" fill="none" stroke="#008000" stroke-width="3.0" stroke-linejoin="round" stroke-dasharray="2 9 19 11" stroke-linecap="round" clip-path="url(#cr2)"/>
<path d="M392.0,478.2 C394.4,477.6 401.3,475.5 406.5,474.6 C411.7,473.6 418.1,473.7 423.0,472.4 C427.9,471.2 432.1,469.4 436.2,467.1 C440.3,464.8 443.9,462.5 447.8,458.8 C451.7,455.2 456.5,449.1 459.4,445.4 C462.3,441.8 463.2,440.1 465.0,436.9 C466.8,433.7 467.5,429.9 470.0,426.3 C472.5,422.7 477.3,418.1 479.9,415.3 C482.5,412.5 483.9,409.4 485.8,409.4 C487.7,409.4 489.7,411.3 491.5,415.2 C493.3,419.1 494.9,426.6 496.5,432.9 C498.1,439.1 499.6,446.9 501.0,452.5 C502.4,458.1 503.6,462.8 505.0,466.7 C506.4,470.6 507.0,474.4 509.5,475.8 C512.0,477.2 517.0,474.7 520.0,475.0 C523.0,475.2 524.2,476.4 527.5,477.2 C530.8,478.0 517.2,479.3 540.0,479.7 C562.8,480.1 643.3,479.7 664.0,479.7" fill="none" stroke="#FF0000" stroke-width="3.0" stroke-linejoin="round" stroke-dasharray="19 6" stroke-linecap="round" clip-path="url(#cr2)"/>
<g stroke="#000" stroke-width="1.4" fill="none">
<line x1="52.6" y1="161.8" x2="66.6" y2="161.8"/>
<line x1="52.6" y1="98.8" x2="66.6" y2="98.8"/>
<line x1="52.6" y1="35.9" x2="66.6" y2="35.9"/>
<line x1="59.6" y1="146.1" x2="66.6" y2="146.1"/>
<line x1="59.6" y1="130.3" x2="66.6" y2="130.3"/>
<line x1="59.6" y1="114.6" x2="66.6" y2="114.6"/>
<line x1="59.6" y1="83.1" x2="66.6" y2="83.1"/>
<line x1="59.6" y1="67.4" x2="66.6" y2="67.4"/>
<line x1="59.6" y1="51.6" x2="66.6" y2="51.6"/>
<line x1="59.6" y1="20.1" x2="66.6" y2="20.1"/>
<line x1="59.6" y1="4.4" x2="66.6" y2="4.4"/>
<line x1="52.6" y1="320.6" x2="66.6" y2="320.6"/>
<line x1="52.6" y1="273.2" x2="66.6" y2="273.2"/>
<line x1="52.6" y1="225.8" x2="66.6" y2="225.8"/>
<line x1="52.6" y1="178.4" x2="66.6" y2="178.4"/>
<line x1="59.6" y1="296.9" x2="66.6" y2="296.9"/>
<line x1="59.6" y1="249.5" x2="66.6" y2="249.5"/>
<line x1="59.6" y1="202.1" x2="66.6" y2="202.1"/>
<line x1="52.6" y1="478.7" x2="66.6" y2="478.7"/>
<line x1="52.6" y1="429.7" x2="66.6" y2="429.7"/>
<line x1="52.6" y1="380.7" x2="66.6" y2="380.7"/>
<line x1="52.6" y1="331.7" x2="66.6" y2="331.7"/>
<line x1="59.6" y1="454.2" x2="66.6" y2="454.2"/>
<line x1="59.6" y1="405.2" x2="66.6" y2="405.2"/>
<line x1="59.6" y1="356.2" x2="66.6" y2="356.2"/>
<line x1="378.3" y1="160.4" x2="392.3" y2="160.4"/>
<line x1="378.3" y1="124.1" x2="392.3" y2="124.1"/>
<line x1="378.3" y1="87.8" x2="392.3" y2="87.8"/>
<line x1="378.3" y1="51.5" x2="392.3" y2="51.5"/>
<line x1="378.3" y1="15.2" x2="392.3" y2="15.2"/>
<line x1="385.3" y1="142.2" x2="392.3" y2="142.2"/>
<line x1="385.3" y1="106.0" x2="392.3" y2="106.0"/>
<line x1="385.3" y1="69.7" x2="392.3" y2="69.7"/>
<line x1="385.3" y1="33.4" x2="392.3" y2="33.4"/>
<line x1="378.3" y1="318.9" x2="392.3" y2="318.9"/>
<line x1="378.3" y1="255.3" x2="392.3" y2="255.3"/>
<line x1="378.3" y1="191.7" x2="392.3" y2="191.7"/>
<line x1="385.3" y1="287.1" x2="392.3" y2="287.1"/>
<line x1="385.3" y1="223.5" x2="392.3" y2="223.5"/>
<line x1="385.3" y1="159.9" x2="392.3" y2="159.9"/>
<line x1="378.3" y1="479.3" x2="392.3" y2="479.3"/>
<line x1="378.3" y1="415.2" x2="392.3" y2="415.2"/>
<line x1="378.3" y1="351.1" x2="392.3" y2="351.1"/>
<line x1="385.3" y1="463.3" x2="392.3" y2="463.3"/>
<line x1="385.3" y1="447.2" x2="392.3" y2="447.2"/>
<line x1="385.3" y1="431.2" x2="392.3" y2="431.2"/>
<line x1="385.3" y1="399.1" x2="392.3" y2="399.1"/>
<line x1="385.3" y1="383.1" x2="392.3" y2="383.1"/>
<line x1="385.3" y1="367.1" x2="392.3" y2="367.1"/>
<line x1="385.3" y1="335.0" x2="392.3" y2="335.0"/>
<line x1="385.3" y1="319.0" x2="392.3" y2="319.0"/>
</g>
<g font-family="Liberation Serif" fill="#000" stroke="#000" stroke-width="0.2">
<text x="68" y="43.7" font-size="20.5" letter-spacing="0.5">8x10<tspan font-size="16.5" dx="0.5" dy="-11.6" letter-spacing="0">3</tspan></text>
<text x="68" y="108.2" font-size="20.5" letter-spacing="0.5">4x10<tspan font-size="16.5" dx="0.5" dy="-11.6" letter-spacing="0">3</tspan></text>
<text x="68" y="190.7" font-size="20.5" letter-spacing="0.5">1x10<tspan font-size="16.5" dx="0.5" dy="-11.2" letter-spacing="0">5</tspan></text>
<text x="68" y="237.2" font-size="20.5" letter-spacing="0.5">8x10<tspan font-size="16.5" dx="0.5" dy="-10.5" letter-spacing="0">4</tspan></text>
<text x="68" y="284.9" font-size="20.5" letter-spacing="0.5">4x10<tspan font-size="16.5" dx="0.5" dy="-11.8" letter-spacing="0">4</tspan></text>
<text x="69" y="389.3" font-size="20.5" letter-spacing="0.5">1x10<tspan font-size="16.5" dx="0.5" dy="-10.6" letter-spacing="0">5</tspan></text>
<text x="69" y="438.2" font-size="20.5" letter-spacing="0.5">5x10<tspan font-size="16.5" dx="0.5" dy="-11.4" letter-spacing="0">4</tspan></text>
<text x="393.5" y="28.8" font-size="20.5" letter-spacing="0.5">2x10<tspan font-size="16.5" dx="0.5" dy="-12.6" letter-spacing="0">4</tspan></text>
<text x="393.5" y="95.9" font-size="20.5" letter-spacing="0.5">1x10<tspan font-size="16.5" dx="0.5" dy="-11.8" letter-spacing="0">4</tspan></text>
<text x="395" y="205.2" font-size="20.5" letter-spacing="0.5">2x10<tspan font-size="16.5" dx="0.5" dy="-10.3" letter-spacing="0">5</tspan></text>
<text x="395.5" y="263.0" font-size="20.5" letter-spacing="0.5">1x10<tspan font-size="16.5" dx="0.5" dy="-12.4" letter-spacing="0">5</tspan></text>
<text x="393.5" y="361.1" font-size="20.5" letter-spacing="0.5">4x10<tspan font-size="16.5" dx="0.5" dy="-10.2" letter-spacing="0">4</tspan></text>
<text x="393" y="422.9" font-size="20.5" letter-spacing="0.5">2x10<tspan font-size="16.5" dx="0.5" dy="-11.5" letter-spacing="0">4</tspan></text>
<text x="238.7" y="37.8" font-size="21">H<tspan font-size="16" dy="-11">+</tspan><tspan dy="11" dx="1.2">+He</tspan></text>
<text x="252.3" y="205.8" font-size="21">H<tspan font-size="16" dy="-11">+</tspan><tspan dy="11" dx="1.2">+Ar</tspan></text>
<text x="246.7" y="362.8" font-size="21">H<tspan font-size="16" dy="-11">+</tspan><tspan dy="11" dx="1.2">+Xe</tspan></text>
<text x="581.2" y="36.5" font-size="21">H<tspan font-size="16" dy="-11">+</tspan><tspan dy="11" dx="1.2">+Ne</tspan></text>
<text x="571.2" y="204.3" font-size="21">H<tspan font-size="16" dy="-11">+</tspan><tspan dy="11" dx="1.2">+Kr</tspan></text>
<text x="583.8" y="367.6" font-size="21">H<tspan font-size="16" dy="-11">+</tspan><tspan dy="11" dx="1.2">+H</tspan></text>
<text x="188.5" y="49.8" font-size="16">500</text>
<text x="148.0" y="110.1" font-size="16">5000</text>
<text x="208.8" y="133.5" font-size="16">10</text>
<text x="247.0" y="135.8" font-size="16">1 eV</text>
<text x="154.9" y="204.9" font-size="16">5000</text>
<text x="128.2" y="291.2" font-size="16">500</text>
<text x="189.1" y="291.5" font-size="16">10</text>
<text x="220.7" y="276.1" font-size="16">1 eV</text>
<text x="189.7" y="345.2" font-size="16">10</text>
<text x="220.4" y="428.5" font-size="16">1 eV</text>
<text x="165.2" y="441.8" font-size="16">5000</text>
<text x="180.3" y="459.9" font-size="16">500</text>
<text x="514.8" y="52.7" font-size="16">500</text>
<text x="475.1" y="111.3" font-size="16">5000</text>
<text x="530.0" y="136.1" font-size="16">10</text>
<text x="564.7" y="129.0" font-size="16">1 eV</text>
<text x="476.9" y="215.6" font-size="16">5000</text>
<text x="493.7" y="269.2" font-size="16">500</text>
<text x="508.7" y="304.5" font-size="16">10</text>
<text x="549.9" y="298.5" font-size="16">1 eV</text>
<text x="511.2" y="348.3" font-size="16">500</text>
<text x="479.7" y="410.5" font-size="16">5000</text>
<text x="538.0" y="434.0" font-size="16">10</text>
<text x="563.9" y="450.6" font-size="16">1 eV</text>
<text x="72.6" y="511.5" font-size="20.5" text-anchor="middle">10<tspan font-size="16.5" dx="0.5" dy="-12">-5</tspan></text>
<text x="120.9" y="511.5" font-size="20.5" text-anchor="middle">10<tspan font-size="16.5" dx="0.5" dy="-12">-4</tspan></text>
<text x="169.2" y="511.5" font-size="20.5" text-anchor="middle">10<tspan font-size="16.5" dx="0.5" dy="-12">-3</tspan></text>
<text x="217.4" y="511.5" font-size="20.5" text-anchor="middle">10<tspan font-size="16.5" dx="0.5" dy="-12">-2</tspan></text>
<text x="265.7" y="511.5" font-size="20.5" text-anchor="middle">10<tspan font-size="16.5" dx="0.5" dy="-12">-1</tspan></text>
<text x="314.0" y="511.5" font-size="20.5" text-anchor="middle">10<tspan font-size="16.5" dx="0.5" dy="-12">0</tspan></text>
<text x="397.6" y="511.5" font-size="20.5" text-anchor="middle">10<tspan font-size="16.5" dx="0.5" dy="-12">-5</tspan></text>
<text x="446.3" y="511.5" font-size="20.5" text-anchor="middle">10<tspan font-size="16.5" dx="0.5" dy="-12">-4</tspan></text>
<text x="495.0" y="511.5" font-size="20.5" text-anchor="middle">10<tspan font-size="16.5" dx="0.5" dy="-12">-3</tspan></text>
<text x="543.6" y="511.5" font-size="20.5" text-anchor="middle">10<tspan font-size="16.5" dx="0.5" dy="-12">-2</tspan></text>
<text x="592.3" y="511.5" font-size="20.5" text-anchor="middle">10<tspan font-size="16.5" dx="0.5" dy="-12">-1</tspan></text>
<text x="641.0" y="511.5" font-size="20.5" text-anchor="middle">10<tspan font-size="16.5" dx="0.5" dy="-12">0</tspan></text>
<text x="168" y="546.5" font-size="25">θ (rad)</text>
<text x="495" y="547" font-size="25">θ (rad)</text>
<g transform="translate(17,0) rotate(-90)">
<text x="-374.5" y="0" font-size="24" textLength="102" lengthAdjust="spacing">2π sinθ dσ</text>
<text x="-272.3" y="11" font-size="24">el</text>
<text x="-256" y="5.5" font-size="31">/</text>
<text x="-245.3" y="5" font-size="28.5">d</text>
<text x="-229" y="5" font-size="29">Ω</text>
<text x="-199.8" y="5" font-size="24" textLength="48.5" lengthAdjust="spacing">(a.u.)</text>
</g>
</g>
</svg>
</body></html>
